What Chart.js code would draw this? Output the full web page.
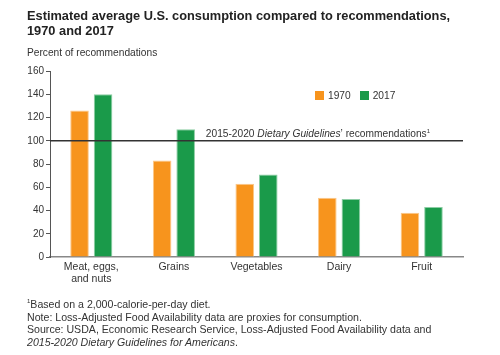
<!DOCTYPE html>
<html><head><meta charset="utf-8">
<script src="https://cdn.jsdelivr.net/npm/chart.js@4"></script>
<style>
html,body{margin:0;padding:0;background:#fff;}
body{width:500px;height:355px;position:relative;overflow:hidden;font-family:"Liberation Sans",Arial,sans-serif;color:#222;}
#title{position:absolute;left:27px;top:8px;font-weight:bold;font-size:12.8px;line-height:15px;color:#222;}
#ylab{position:absolute;left:27px;top:47px;font-size:10.2px;color:#333;}
#legend{position:absolute;left:315px;top:90px;font-size:10.2px;color:#333;display:flex;align-items:center;}
#legend span.sw{display:inline-block;width:9px;height:9px;margin-right:4px;}
#legend span.t{margin-right:9px;}
#notes{position:absolute;left:27px;top:298px;font-size:10.6px;line-height:12.5px;color:#333;}
#notes sup{font-size:6px;vertical-align:top;line-height:6px;}
canvas{position:absolute;left:0;top:0;}
</style></head>
<body>
<canvas id="c" width="500" height="355"></canvas>
<div id="title">Estimated average U.S. consumption compared to recommendations,<br>1970 and 2017</div>
<div id="ylab">Percent of recommendations</div>
<div id="legend"><span class="sw" style="background:#F7941D"></span><span class="t">1970</span><span class="sw" style="background:#1A9A4A"></span><span class="t">2017</span></div>
<div id="notes"><sup>1</sup>Based on a 2,000-calorie-per-day diet.<br>Note: Loss-Adjusted Food Availability data are proxies for consumption.<br>Source: USDA, Economic Research Service, Loss-Adjusted Food Availability data and<br><i>2015-2020 Dietary Guidelines for Americans</i>.</div>
<script>
const categories = [["Meat, eggs,","and nuts"], "Grains", "Vegetables", "Dairy", "Fruit"];
const values1970 = [126, 83, 63, 51, 38];
const values2017 = [140, 110, 71, 50, 43];
const seriesNames = ["1970", "2017"];
const recommendation = 100;
const yTicks = [0, 20, 40, 60, 80, 100, 120, 140, 160];

const refLine = {
  id: 'refLine',
  afterDatasetsDraw(chart) {
    const {ctx, chartArea, scales} = chart;
    const y = scales.y.getPixelForValue(recommendation);
    ctx.save();
    ctx.strokeStyle = '#333';
    ctx.lineWidth = 1.6;
    ctx.beginPath();
    ctx.moveTo(chartArea.left, y);
    ctx.lineTo(chartArea.right, y);
    ctx.stroke();
    const parts = [
      ['10.2px "Liberation Sans", Arial', '2015-2020 ', 0],
      ['italic 10.2px "Liberation Sans", Arial', 'Dietary Guidelines', 0],
      ['10.2px "Liberation Sans", Arial', '\u2019 recommendations', 0],
      ['6px "Liberation Sans", Arial', '1', -4]
    ];
    let total = 0;
    parts.forEach(p => { ctx.font = p[0]; total += ctx.measureText(p[1]).width; });
    let x = 430 - total;
    ctx.fillStyle = '#333';
    ctx.textBaseline = 'alphabetic';
    parts.forEach(p => { ctx.font = p[0]; ctx.fillText(p[1], x, y - 4 + p[2]); x += ctx.measureText(p[1]).width; });
    ctx.restore();
  }
};

new Chart(document.getElementById('c'), {
  type: 'bar',
  data: {
    labels: categories,
    datasets: [
      {label: seriesNames[0], data: values1970, backgroundColor: '#F7941D', borderColor: '#FBC88A', borderWidth: 1, categoryPercentage: 0.57, barPercentage: 0.79},
      {label: seriesNames[1], data: values2017, backgroundColor: '#1A9A4A', borderColor: '#8CCDA4', borderWidth: 1, categoryPercentage: 0.57, barPercentage: 0.79}
    ]
  },
  options: {
    responsive: false,
    animation: false,
    devicePixelRatio: 1,
    layout: {padding: {left: 0, top: 71, right: 37, bottom: 58}},
    plugins: {legend: {display: false}, tooltip: {enabled: false}},
    scales: {
      x: {
        afterFit: s => { s.height = 40; },
        grid: {display: false, drawTicks: false},
        border: {color: '#888', width: 1.5},
        ticks: {color: '#333', font: {family: '"Liberation Sans", Arial', size: 10.5, lineHeight: 1.15}, padding: 4, maxRotation: 0, autoSkip: false}
      },
      y: {
        min: 0, max: 160,
        afterFit: s => { s.width = 50; },
        afterBuildTicks: s => { s.ticks = yTicks.map(v => ({value: v})); },
        grid: {drawOnChartArea: false, tickLength: 4, color: '#555'},
        border: {color: '#555', width: 1},
        ticks: {color: '#333', font: {family: '"Liberation Sans", Arial', size: 10}, padding: 2}
      }
    }
  },
  plugins: [refLine]
});
</script>
</body></html>
